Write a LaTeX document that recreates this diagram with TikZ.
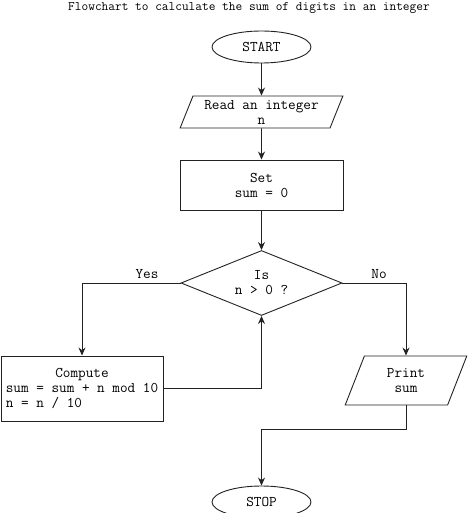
\documentclass[tikz,border=0pt]{standalone}
\usepackage{fontspec}
\setmainfont{Latin Modern Mono}
\usetikzlibrary{shapes.geometric,arrows.meta}
\definecolor{ln}{HTML}{222222}
\tikzset{
  base/.style={draw=ln, line width=0.9pt, inner sep=0pt, font=\fontsize{14.8}{15}\selectfont, align=center},
  term/.style={base, ellipse, minimum width=99pt, minimum height=32pt},
  io/.style={base, trapezium, trapezium stretches=true},
  proc/.style={base, rectangle},
  dec/.style={base, diamond, aspect=2.48, minimum width=161pt, minimum height=65pt},
  arr/.style={draw=ln, line width=0.9pt, -{Stealth[length=8pt,width=7pt]}},
  lbl/.style={font=\fontsize{14.8}{15}\selectfont, inner sep=0pt}
}
\begin{document}
\begin{tikzpicture}[x=1pt,y=-1pt]
\useasboundingbox (0,0) rectangle (474,513);
\node[font=\fontsize{13}{14}\selectfont, inner sep=0pt] (title) at (249,8) {Flowchart to calculate the sum of digits in an integer};
\node[term] (start) at (261.5,47) {START};
\node[io, trapezium left angle=66, trapezium right angle=114, minimum width=163pt, minimum height=32pt] (read) at (261.5,112) {Read an integer\\n};
\node[proc, minimum width=163pt, minimum height=50pt] (set) at (261.5,185) {Set\\sum = 0};
\node[dec] (cond) at (261.5,283) {Is\\n > 0 ?};
\node[proc, minimum width=162pt, minimum height=65pt] (comp) at (82,388.5) {Compute\\sum = sum + n mod 10\\n = n / 10\phantom{0000000000}};
\node[io, trapezium left angle=70, trapezium right angle=110, minimum width=122pt, minimum height=49pt] (print) at (406,380.5) {Print\\sum};
\node[term] (stop) at (261.5,502) {STOP};
\node[lbl] (yes) at (147,274) {Yes};
\node[lbl] (no) at (379,274) {No};
\coordinate (j) at (261.5,429);
\draw[arr] (start) -- (read);
\draw[arr] (read) -- (set);
\draw[arr] (set) -- (cond);
\draw[arr] (cond.west) -| (comp.north);
\draw[arr] (comp.east) -| (cond.south);
\draw[arr] (cond.east) -| (print.north);
\draw[arr] (print.south) |- (j) -- (stop.north);
\end{tikzpicture}
\end{document}
